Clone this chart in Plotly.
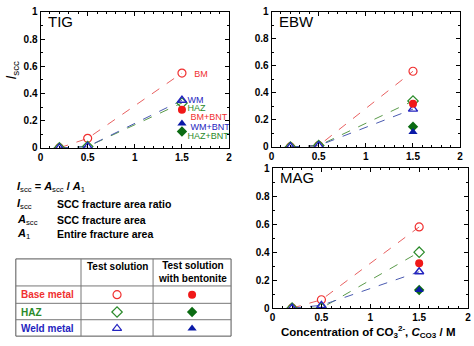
import plotly.graph_objects as go

W, H = 474, 346
conc = [0.2, 0.5, 1.5]
bnt_x = [1.5]

# TIG
tig_bm = [0.0, 0.07, 0.55]
tig_haz = [0.0, 0.01, 0.33]
tig_wm = [0.0, 0.01, 0.35]
tig_bm_bnt = [0.28]
tig_haz_bnt = [0.12]
tig_wm_bnt = [0.18]
# EBW
ebw_bm = [0.0, 0.01, 0.56]
ebw_haz = [0.0, 0.01, 0.34]
ebw_wm = [0.0, 0.01, 0.28]
ebw_bm_bnt = [0.32]
ebw_haz_bnt = [0.15]
ebw_wm_bnt = [0.11]
# MAG
mag_bm = [0.0, 0.06, 0.58]
mag_haz = [0.0, 0.0, 0.40]
mag_wm = [0.0, 0.02, 0.26]
mag_bm_bnt = [0.32]
mag_haz_bnt = [0.13]
mag_wm_bnt = [0.13]

x_ticks = [0, 0.5, 1, 1.5, 2]
x_ticktext = ["0", "0.5", "1", "1.5", "2"]
y_ticks = [0, 0.2, 0.4, 0.6, 0.8, 1]
y_ticktext = ["0", "0.2", "0.4", "0.6", "0.8", "1"]

tig_labels = ["BM", "WM", "HAZ", "BM+BNT", "WM+BNT", "HAZ+BNT"]
tig_label_x = [1.63, 1.56, 1.56, 1.59, 1.59, 1.56]
tig_label_y = [0.54, 0.35, 0.285, 0.22, 0.15, 0.08]

RED = "#f03030"
GREEN = "#2a8a2a"
BLUE = "#2424c0"
DKGREEN = "#0b6b12"
DKBLUE = "#0a1aa8"
LRED = "#e86060"
LGREEN = "#5a9a4a"
LBLUE = "#4a5ab0"
label_colors = [RED, BLUE, GREEN, RED, BLUE, GREEN]

fig = go.Figure()

def px_dom_x(a, b):
    return [a / W, b / W]

def px_dom_y(top, bot):
    return [1 - bot / H, 1 - top / H]

panels = [
    ("TIG", "x", "y", px_dom_x(38, 229), px_dom_y(6, 147),
     tig_bm, tig_haz, tig_wm, tig_bm_bnt, tig_haz_bnt, tig_wm_bnt),
    ("EBW", "x2", "y2", px_dom_x(272, 463), px_dom_y(6, 146),
     ebw_bm, ebw_haz, ebw_wm, ebw_bm_bnt, ebw_haz_bnt, ebw_wm_bnt),
    ("MAG", "x3", "y3", px_dom_x(273, 471), px_dom_y(168, 313),
     mag_bm, mag_haz, mag_wm, mag_bm_bnt, mag_haz_bnt, mag_wm_bnt),
]

tickfont = dict(family="Liberation Sans", size=10, color="black", weight="bold")

for i, (name, xa, ya, xd, yd, bm, haz, wm, bmb, hazb, wmb) in enumerate(panels):
    for ys, lc in [(bm, LRED), (haz, LGREEN), (wm, LBLUE)]:
        fig.add_trace(go.Scatter(x=conc, y=ys, mode="lines", xaxis=xa, yaxis=ya,
                                 line=dict(color=lc, width=1, dash="dash"),
                                 showlegend=False, hoverinfo="skip"))
    fig.add_trace(go.Scatter(x=conc, y=bm, mode="markers", xaxis=xa, yaxis=ya,
                             marker=dict(symbol="circle-open", size=8, color=RED, line=dict(width=1.2)),
                             showlegend=False))
    fig.add_trace(go.Scatter(x=conc, y=haz, mode="markers", xaxis=xa, yaxis=ya,
                             marker=dict(symbol="diamond-open", size=8, color=GREEN, line=dict(width=1.2)),
                             showlegend=False))
    fig.add_trace(go.Scatter(x=conc, y=wm, mode="markers", xaxis=xa, yaxis=ya,
                             marker=dict(symbol="triangle-up-open", size=8, color=BLUE, line=dict(width=1.4)),
                             showlegend=False))
    fig.add_trace(go.Scatter(x=bnt_x, y=bmb, mode="markers", xaxis=xa, yaxis=ya,
                             marker=dict(symbol="circle", size=8, color="#f01818"),
                             showlegend=False))
    fig.add_trace(go.Scatter(x=bnt_x, y=hazb, mode="markers", xaxis=xa, yaxis=ya,
                             marker=dict(symbol="diamond", size=8, color=DKGREEN),
                             showlegend=False))
    fig.add_trace(go.Scatter(x=bnt_x, y=wmb, mode="markers", xaxis=xa, yaxis=ya,
                             marker=dict(symbol="triangle-up", size=8, color=DKBLUE),
                             showlegend=False))
    sfx = "" if i == 0 else str(i + 1)
    common = dict(showline=True, linecolor="black", linewidth=1, mirror="allticks",
                  ticks="inside", ticklen=4, tickwidth=1, tickcolor="black",
                  showgrid=False, zeroline=False, tickfont=tickfont, fixedrange=True)
    fig.update_layout(**{
        "xaxis" + sfx: dict(domain=xd, range=[0, 2], anchor="y" + sfx,
                            tickvals=x_ticks, ticktext=x_ticktext,
                            minor=dict(ticks="inside", ticklen=2, dtick=0.1, tickcolor="black", showgrid=False),
                            ticklabelstandoff=0, **common),
        "yaxis" + sfx: dict(domain=yd, range=[0, 1], anchor="x" + sfx,
                            tickvals=y_ticks, ticktext=y_ticktext,
                            minor=dict(ticks="inside", ticklen=2, dtick=0.1, tickcolor="black", showgrid=False),
                            **common),
    })
    fig.add_annotation(x=0.06, y=0.93, xref=xa, yref=ya, text=name, showarrow=False,
                       xanchor="left", yanchor="middle",
                       font=dict(family="Liberation Sans", size=15, color="black"))

fig.add_trace(go.Scatter(x=tig_label_x, y=tig_label_y, mode="text", text=tig_labels,
                         textposition="middle right",
                         textfont=dict(family="Liberation Sans", size=9, color=label_colors),
                         xaxis="x", yaxis="y", showlegend=False, cliponaxis=False))

def ann(xp, yp, text, size, color="black", xanchor="center", angle=0):
    fig.add_annotation(x=xp / W, y=1 - yp / H, xref="paper", yref="paper", showarrow=False,
                       xanchor=xanchor, yanchor="middle", text=text, textangle=angle,
                       font=dict(family="Liberation Sans", size=size, color=color))

ann(9, 66, "<i>I</i><sub>scc</sub>", 14, angle=-90)
ann(370, 338, "<b>Concentration of CO<sub>3</sub><sup>2-</sup>, <i>C</i><sub>CO3</sub> / M</b>", 11.5)

defs = [
    (187, "<b><i>I</i></b><sub>scc</sub><b> = <i>A</i></b><sub>scc</sub><b> / <i>A</i></b><sub>1</sub>"),
    (205, "<b><i>I</i></b><sub>scc</sub>"),
    (222, "<b><i>A</i></b><sub>scc</sub>"),
    (236, "<b><i>A</i></b><sub>1</sub>"),
]
for yp, t in defs:
    ann(12, yp, t, 11, xanchor="left")
desc = [(205, "SCC fracture area ratio"), (222, "SCC fracture area"), (236, "Entire fracture area")]
for yp, t in desc:
    ann(53, yp, "<b>" + t + "</b>", 10.5, xanchor="left")

# table
tl, tr, tt, tb = 13, 231, 262, 342
c1, c2 = 79, 152
r1, r2, r3 = 290, 308, 325
fig.add_shape(type="rect", xref="paper", yref="paper", x0=tl / W, y0=1 - tb / H, x1=tr / W, y1=1 - tt / H,
              line=dict(color="#555555", width=1))
for cx in (c1, c2):
    fig.add_shape(type="line", xref="paper", yref="paper", x0=cx / W, x1=cx / W,
                  y0=1 - tb / H, y1=1 - tt / H, line=dict(color="#777777", width=1))
for ry in (r1, r2, r3):
    fig.add_shape(type="line", xref="paper", yref="paper", x0=tl / W, x1=tr / W,
                  y0=1 - ry / H, y1=1 - ry / H, line=dict(color="#777777", width=1))

ann((c1 + c2) / 2, 270, "<b>Test solution</b>", 10)
ann((c2 + tr) / 2, 276, "<b>Test solution<br>with bentonite</b>", 10)

row_names = ["Base metal", "HAZ", "Weld metal"]
row_colors = [RED, GREEN, BLUE]
row_y = [299, 317, 334]
for nm, col, yy in zip(row_names, row_colors, row_y):
    ann(16, yy, "<b>" + nm + "</b>", 10, color=col, xanchor="left")

tab_col_x = [(c1 + c2) / 2, (c2 + tr) / 2]
open_syms = ["circle-open", "diamond-open", "triangle-up-open"]
fill_syms = ["circle", "diamond", "triangle-up"]
fill_cols = ["#f01818", DKGREEN, DKBLUE]
fig.add_trace(go.Scatter(x=[tab_col_x[0]] * 3, y=row_y, mode="markers", xaxis="x4", yaxis="y4",
                         marker=dict(symbol=open_syms, size=8, color=row_colors, line=dict(width=1.2)),
                         showlegend=False))
fig.add_trace(go.Scatter(x=[tab_col_x[1]] * 3, y=row_y, mode="markers", xaxis="x4", yaxis="y4",
                         marker=dict(symbol=fill_syms, size=8, color=fill_cols),
                         showlegend=False))
fig.update_layout(
    xaxis4=dict(domain=[0, 1], range=[0, W], visible=False, anchor="y4", fixedrange=True),
    yaxis4=dict(domain=[0, 1], range=[H, 0], visible=False, anchor="x4", fixedrange=True),
)

fig.update_layout(width=W, height=H, margin=dict(l=0, r=0, t=0, b=0),
                  paper_bgcolor="white", plot_bgcolor="rgba(0,0,0,0)",
                  showlegend=False)
fig.write_html("out.html")
